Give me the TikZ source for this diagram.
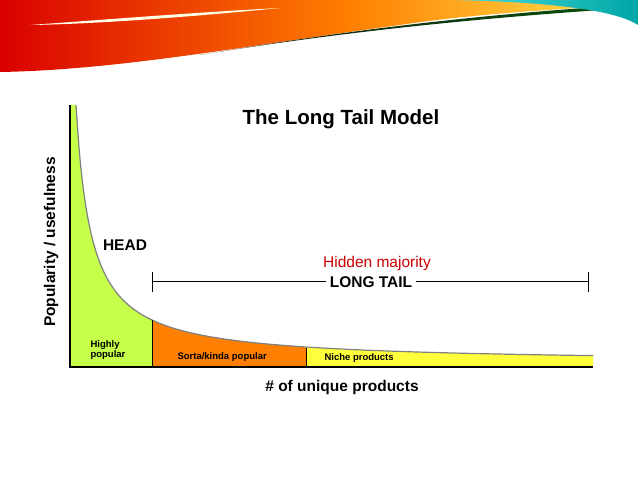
\documentclass[tikz,border=0pt]{standalone}
\usepackage{fontspec}
\setmainfont{Liberation Sans}
\definecolor{headgreen}{RGB}{198,255,74}
\definecolor{nicheyellow}{RGB}{255,255,60}
\begin{document}
\begin{tikzpicture}[x=1pt,y=-1pt,
  lbl/.style={font=\bfseries\fontsize{15.5}{18}\selectfont},
  small/.style={font=\bfseries\fontsize{9.5}{10.5}\selectfont, align=left, anchor=west}]
\useasboundingbox (0,0) rectangle (638,478);
% banner
\shade[left color=red!85!black, right color=yellow!60, middle color=orange]
  (0,0) -- (700,0) .. controls (600,8) and (500,10) .. (400,25) .. controls (250,45) and (120,70) .. (0,72) -- cycle;
\shade[left color=black!90, right color=green!40!black]
  (200,55) .. controls (350,30) and (500,10) .. (720,0) -- (780,0) .. controls (600,8) and (400,22) .. (200,55) -- cycle;
\shade[left color=cyan!50, right color=cyan!30!teal] (330,0) .. controls (450,-2) and (600,0) .. (638,25) -- (638,0) -- cycle;
\fill[white!90!yellow] (30,25) .. controls (100,20) and (200,12) .. (280,8) .. controls (200,16) and (100,24) .. (30,25) -- cycle;
% fills
\fill[headgreen] (70,367) -- (70,105) -- (76,105) -- plot[domain=76:152,samples=60,smooth] (\x,{367-4-3922/(\x-60.8)}) -- (152,367) -- cycle;
\fill[orange] (152,367) -- plot[domain=152:306,samples=60,smooth] (\x,{367-4-3922/(\x-60.8)}) -- (306,367) -- cycle;
\fill[nicheyellow] (306,367) -- plot[domain=306:593,samples=60,smooth] (\x,{367-4-3922/(\x-60.8)}) -- (593,367) -- cycle;
\draw[gray, line width=1.2pt] plot[domain=76:593,samples=150,smooth] (\x,{367-4-3922/(\x-60.8)});
\draw[line width=1pt] (152,367) -- (152,320);
\draw[line width=1pt] (306,367) -- (306,348);
% axes
\coordinate (O) at (70,367);
\coordinate (Ytop) at (70,105);
\coordinate (Xend) at (593,367);
\draw[line width=1.5pt] (Ytop) -- (O) -- (Xend);
% texts
\node[font=\bfseries\fontsize{20.5}{24}\selectfont] (title) at (341,119) {The Long Tail Model};
\node[lbl, rotate=90] (ylab) at (51,242) {Popularity / usefulness};
\node[lbl] (xlab) at (342,387) {\# of unique products};
\node[lbl] (head) at (125,245) {HEAD};
\node[font=\fontsize{15.5}{18}\selectfont, text=red!80!black] (hm) at (377,263) {Hidden majority};
\node[lbl, inner sep=4pt] (lt) at (371,282) {LONG TAIL};
\coordinate (ltl) at (152,282);
\coordinate (ltr) at (588,282);
\draw[line width=1pt] (ltl) -- (lt.west) (lt.east) -- (ltr);
\draw[line width=1pt] (152,272) -- (152,292) (588,272) -- (588,292);
\node[small] (hp) at (87,350) {Highly\\popular};
\node[small] (sk) at (174,357) {Sorta/kinda popular};
\node[small] (np) at (321,358) {Niche products};
\end{tikzpicture}
\end{document}
